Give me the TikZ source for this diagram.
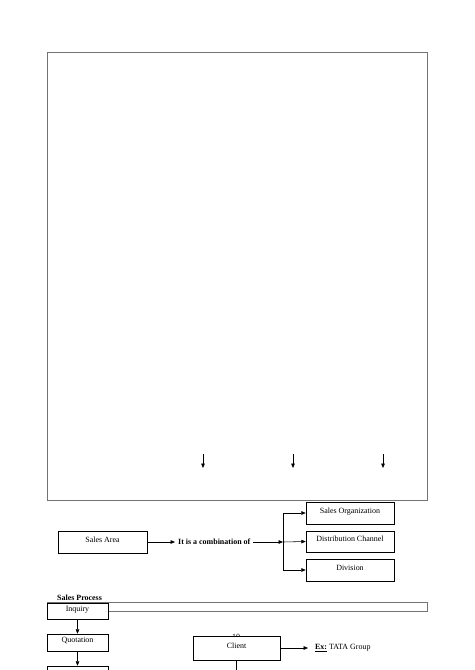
\documentclass[tikz,border=0pt]{standalone}
\usepackage{fontspec}
\setmainfont{Liberation Serif}
\usetikzlibrary{arrows.meta}
\newcommand{\pxu}{1.255pt}
\tikzset{
  box/.style={draw, fill=white, line width=0.7pt, inner sep=0pt, text height=6pt, text depth=6pt},
  frame/.style={draw=black!55, line width=0.9pt},
  arr/.style={-{Triangle[length=5.5pt,width=4.5pt]}, line width=0.7pt},
  plain/.style={line width=0.7pt}
}
\begin{document}
\begin{tikzpicture}[x=1.255pt, y=-1.255pt]
\useasboundingbox (0,0) rectangle (474,670);
\clip (0,0) rectangle (474,670);
% big frame
\node[frame, minimum width=380*\pxu, minimum height=448*\pxu, inner sep=0pt] (bigframe) at (237,276) {};
\coordinate (a1s) at (203,454); \coordinate (a1e) at (203,468);
\coordinate (a2s) at (293,454); \coordinate (a2e) at (293,468);
\coordinate (a3s) at (383,454); \coordinate (a3e) at (383,468);
\draw[arr] (a1s) -- (a1e);
\draw[arr] (a2s) -- (a2e);
\draw[arr] (a3s) -- (a3e);
% sales area
\node[box, minimum width=89*\pxu, minimum height=22*\pxu] (sa) at (102.5,542) {Sales Area};
\node[inner xsep=3*\pxu, inner ysep=0pt, anchor=west, font=\bfseries] (comb) at (175,542) {It is a combination of};
\coordinate (j) at (283,542);
\node[box, minimum width=88*\pxu, minimum height=22*\pxu] (so) at (350,513) {Sales Organization};
\node[box, minimum width=88*\pxu, minimum height=21*\pxu] (dc) at (350,541.5) {Distribution Channel};
\node[box, minimum width=88*\pxu, minimum height=22*\pxu] (dv) at (350,570) {Division};
\draw[arr] (sa.east) -- (comb.west);
\draw[arr] (comb.east) -- (j);
\draw[arr] (j) |- (so.west);
\draw[arr] (j) -- (dc.west);
\draw[arr] (j) |- (dv.west);
% sales process
\node[anchor=west, font=\bfseries, inner sep=0pt] (sp) at (57,598) {Sales Process};
\node[frame, line width=0.7pt, minimum width=380*\pxu, minimum height=9*\pxu, inner sep=0pt] (bar) at (237,606.5) {};
\node[box, minimum width=61*\pxu, minimum height=16*\pxu] (inq) at (77.5,611) {Inquiry};
\node[box, minimum width=61*\pxu, minimum height=17*\pxu] (quo) at (77.5,642.5) {Quotation};
\node[box, minimum width=61*\pxu, minimum height=17*\pxu] (nxt) at (77.5,674.5) {};
\draw[arr] (inq.south) -- (quo.north);
\draw[arr] (quo.south) -- (nxt.north);
\node[inner sep=0pt] (pg) at (236,637) {10};
\node[box, minimum width=87*\pxu, minimum height=24*\pxu] (cl) at (236.5,648) {Client};
\node[anchor=west, inner sep=0pt] (ex) at (315,648) {\textbf{\underline{Ex:}} TATA Group};
\draw[arr, shorten >=7*\pxu] (cl.east) -- (ex.west);
\coordinate (clb) at (236.5,680);
\draw[plain] (cl.south) -- (clb);
\end{tikzpicture}
\end{document}
